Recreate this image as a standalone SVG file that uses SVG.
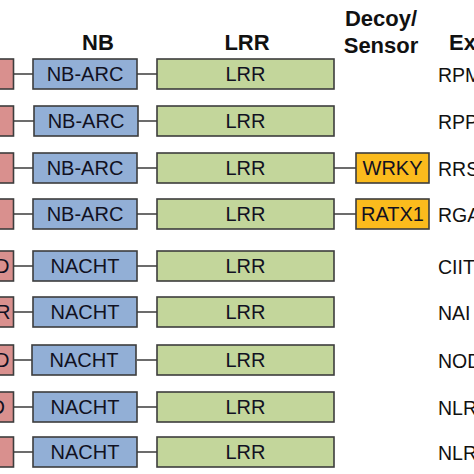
<svg xmlns="http://www.w3.org/2000/svg" width="474" height="474" viewBox="0 0 474 474">
<style>
.b{stroke:#3d3d3d;stroke-width:1.6}
.p{fill:#d9908e}
.n{fill:#92afd6}
.l{fill:#c3d69b}
.o{fill:#fbbb1d}
.t{font-family:"Liberation Sans",Arial,sans-serif;font-size:20px;fill:#111122;text-anchor:middle}
.e{font-family:"Liberation Sans",Arial,sans-serif;font-size:19.5px;fill:#111}
.h{font-family:"Liberation Sans",Arial,sans-serif;font-size:22px;font-weight:bold;fill:#111;text-anchor:middle}
.c{stroke:#3d3d3d;stroke-width:1.6;fill:none}
</style>
<rect width="474" height="474" fill="#fff"/>
<g id="headers">
<text class="h" x="98" y="50">NB</text>
<text class="h" x="247" y="50">LRR</text>
<text class="h" x="381" y="26">Decoy/</text>
<text class="h" x="381" y="53">Sensor</text>
<text class="h" x="449" y="50" style="text-anchor:start">Ex</text>
</g>
<g id="connectors">
<path class="c" d="M13.5 74H33M137 74H157M13.5 121H34M138 121H157M13.5 168H33M137 168H157M334 168H356M13.5 214H33M137 214H157M334 214H356M13.5 266H33M137 266H157M13.5 312H33M137 312H157M13.5 360H33M137 360H157M13.5 407H33M137 407H157M13.5 452H33M137 452H157"/>
</g>
<g id="row1">
<rect class="b p" x="-40" y="59" width="53.5" height="30"/>
<rect class="b n" x="33" y="59" width="104" height="30"/><text class="t" x="85" y="81">NB-ARC</text>
<rect class="b l" x="157" y="59" width="177" height="30"/><text class="t" x="245.5" y="81">LRR</text>
<text class="e" x="438" y="82">RPM</text>
</g>
<g id="row2">
<rect class="b p" x="-40" y="106" width="53.5" height="30"/>
<rect class="b n" x="34" y="106" width="104" height="30"/><text class="t" x="86" y="128">NB-ARC</text>
<rect class="b l" x="157" y="106" width="177" height="30"/><text class="t" x="245.5" y="128">LRR</text>
<text class="e" x="438" y="129">RPP</text>
</g>
<g id="row3">
<rect class="b p" x="-40" y="153" width="53.5" height="30"/>
<rect class="b n" x="33" y="153" width="104" height="30"/><text class="t" x="85" y="175">NB-ARC</text>
<rect class="b l" x="157" y="153" width="177" height="30"/><text class="t" x="245.5" y="175">LRR</text>
<rect class="b o" x="356" y="153" width="73" height="30"/><text class="t" x="392.5" y="175">WRKY</text>
<text class="e" x="438" y="176">RRS</text>
</g>
<g id="row4">
<rect class="b p" x="-40" y="199" width="53.5" height="30"/>
<rect class="b n" x="33" y="199" width="104" height="30"/><text class="t" x="85" y="221">NB-ARC</text>
<rect class="b l" x="157" y="199" width="177" height="30"/><text class="t" x="245.5" y="221">LRR</text>
<rect class="b o" x="356" y="199" width="73" height="30"/><text class="t" x="392.5" y="221">RATX1</text>
<text class="e" x="438" y="222">RGA</text>
</g>
<g id="row5">
<rect class="b p" x="-40" y="251" width="53.5" height="30"/><text class="t" x="9.5" y="273" style="text-anchor:end">D</text>
<rect class="b n" x="33" y="251" width="104" height="30"/><text class="t" x="85" y="273">NACHT</text>
<rect class="b l" x="157" y="251" width="177" height="30"/><text class="t" x="245.5" y="273">LRR</text>
<text class="e" x="438" y="274">CIIT</text>
</g>
<g id="row6">
<rect class="b p" x="-40" y="297" width="53.5" height="30"/><text class="t" x="10.5" y="319" style="text-anchor:end">R</text>
<rect class="b n" x="33" y="297" width="104" height="30"/><text class="t" x="85" y="319">NACHT</text>
<rect class="b l" x="157" y="297" width="177" height="30"/><text class="t" x="245.5" y="319">LRR</text>
<text class="e" x="438" y="320">NAI</text>
</g>
<g id="row7">
<rect class="b p" x="-40" y="345" width="53.5" height="30"/><text class="t" x="9.5" y="367" style="text-anchor:end">D</text>
<rect class="b n" x="32" y="345" width="104" height="30"/><text class="t" x="84" y="367">NACHT</text>
<rect class="b l" x="157" y="345" width="177" height="30"/><text class="t" x="245.5" y="367">LRR</text>
<text class="e" x="438" y="368">NOD</text>
</g>
<g id="row8">
<rect class="b p" x="-40" y="392" width="53.5" height="30"/><text class="t" x="5" y="414" style="text-anchor:end">D</text>
<rect class="b n" x="33" y="392" width="104" height="30"/><text class="t" x="85" y="414">NACHT</text>
<rect class="b l" x="157" y="392" width="177" height="30"/><text class="t" x="245.5" y="414">LRR</text>
<text class="e" x="438" y="415">NLR</text>
</g>
<g id="row9">
<rect class="b p" x="-40" y="437" width="53.5" height="30"/>
<rect class="b n" x="33" y="437" width="104" height="30"/><text class="t" x="85" y="459">NACHT</text>
<rect class="b l" x="157" y="437" width="177" height="30"/><text class="t" x="245.5" y="459">LRR</text>
<text class="e" x="438" y="460">NLR</text>
</g>
</svg>
